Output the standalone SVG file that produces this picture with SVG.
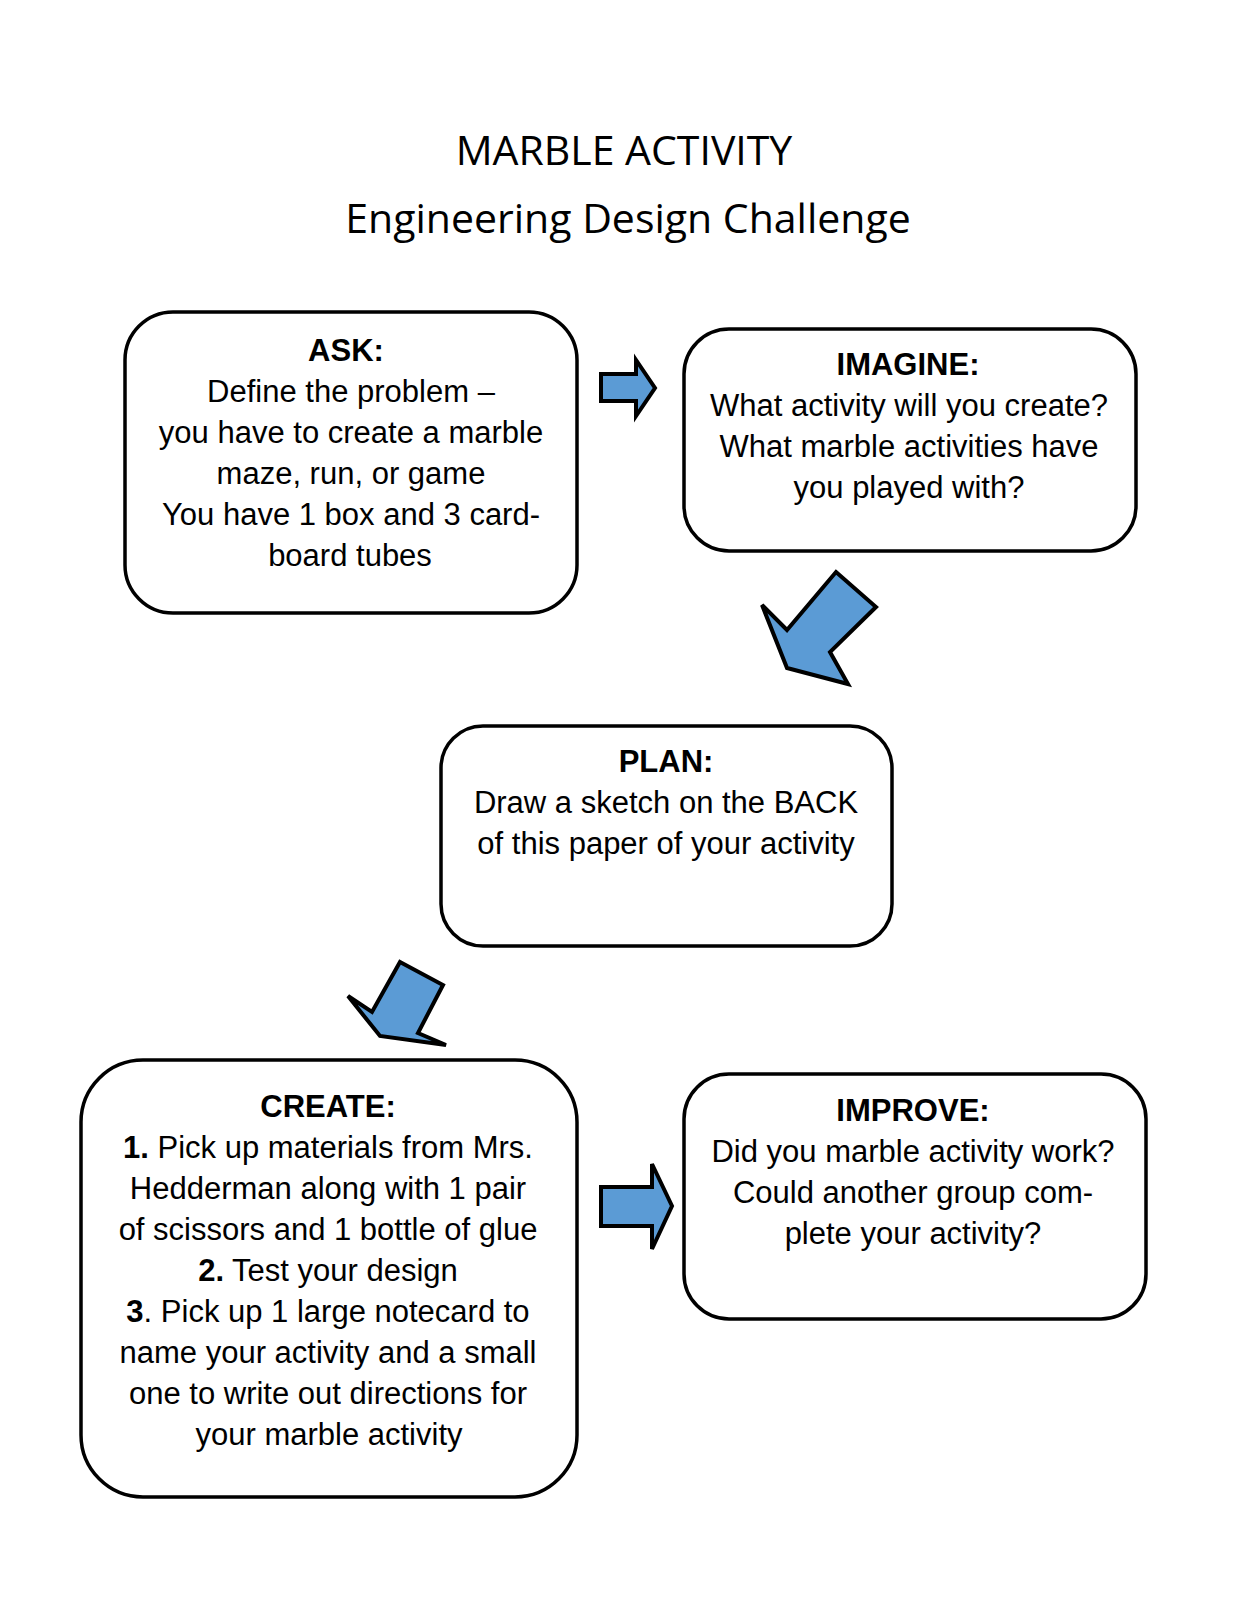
<svg xmlns="http://www.w3.org/2000/svg" width="1236" height="1600" viewBox="0 0 1236 1600">
<style>
.box{fill:#fff;stroke:#000;stroke-width:3.5}
.arr{fill:#5b9bd5;stroke:#000;stroke-width:4;stroke-linejoin:miter}
text{font-family:"Liberation Sans",Arial,sans-serif;font-size:31px;fill:#000;text-anchor:middle}
.b{font-weight:bold}
.t{font-family:"Open Sans","Liberation Sans",sans-serif;font-size:41px}
</style>
<rect width="1236" height="1600" fill="#fff"/>
<text class="t" x="624" y="165">MARBLE ACTIVITY</text>
<text class="t" x="628" y="233">Engineering Design Challenge</text>
<g id="ask">
<rect class="box" x="125" y="312" width="452" height="301" rx="48"/>
<text class="b" x="346" y="361">ASK:</text>
<text x="351" y="402">Define the problem –</text>
<text x="351" y="443">you have to create a marble</text>
<text x="351" y="484">maze, run, or game</text>
<text x="351" y="525">You have 1 box and 3 card-</text>
<text x="350" y="566">board tubes</text>
</g>
<g id="imagine">
<rect class="box" x="684" y="329" width="452" height="222" rx="45"/>
<text class="b" x="908" y="375">IMAGINE:</text>
<text x="909" y="416">What activity will you create?</text>
<text x="909" y="457">What marble activities have</text>
<text x="909" y="498">you played with?</text>
</g>
<g id="plan">
<rect class="box" x="441" y="726" width="451" height="220" rx="42"/>
<text class="b" x="666" y="772">PLAN:</text>
<text x="666" y="813">Draw a sketch on the BACK</text>
<text x="666" y="854">of this paper of your activity</text>
</g>
<g id="create">
<rect class="box" x="81" y="1060" width="496" height="437" rx="62"/>
<text class="b" x="328" y="1117">CREATE:</text>
<text x="328" y="1158"><tspan class="b">1.</tspan> Pick up materials from Mrs.</text>
<text x="328" y="1199">Hedderman along with 1 pair</text>
<text x="328" y="1240">of scissors and 1 bottle of glue</text>
<text x="328" y="1281"><tspan class="b">2.</tspan> Test your design</text>
<text x="328" y="1322"><tspan class="b">3</tspan>. Pick up 1 large notecard to</text>
<text x="328" y="1363">name your activity and a small</text>
<text x="328" y="1404">one to write out directions for</text>
<text x="329" y="1445">your marble activity</text>
</g>
<g id="improve">
<rect class="box" x="684" y="1074" width="462" height="245" rx="45"/>
<text class="b" x="913" y="1121">IMPROVE:</text>
<text x="913" y="1162">Did you marble activity work?</text>
<text x="913" y="1203">Could another group com-</text>
<text x="913" y="1244">plete your activity?</text>
</g>
<g id="connectors">
<polygon class="arr" points="601,374 636,374 636,360 655,388 636,416 636,401 601,401"/>
<polygon class="arr" points="836,572 876,607 830,652 848,684 787,668 762,605 787,630"/>
<polygon class="arr" points="400,962 443,985 418,1033 446,1045 380,1036 348,996 372,1012"/>
<polygon class="arr" points="601,1187 652,1187 652,1164 672,1206 652,1249 652,1226 601,1226"/>
</g>
</svg>
